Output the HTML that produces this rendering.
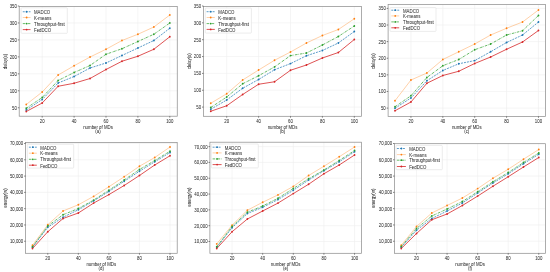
<!DOCTYPE html>
<html><head><meta charset="utf-8"><style>
html,body{margin:0;padding:0;background:#fff;}
body{width:550px;height:272px;overflow:hidden;}
svg{display:block;}
text{font-family:"Liberation Sans", sans-serif;fill:#303030;stroke:#303030;stroke-width:0.3px;}
svg{will-change:transform;filter:blur(0.3px);}
</style></head><body>
<svg width="550" height="272" viewBox="0 0 550 272">
<rect width="550" height="272" fill="#fff"/>
<line x1="42.2" y1="6.5" x2="42.2" y2="116.2" stroke="#efefef" stroke-width="0.6"/>
<line x1="74.1" y1="6.5" x2="74.1" y2="116.2" stroke="#efefef" stroke-width="0.6"/>
<line x1="106" y1="6.5" x2="106" y2="116.2" stroke="#efefef" stroke-width="0.6"/>
<line x1="137.9" y1="6.5" x2="137.9" y2="116.2" stroke="#efefef" stroke-width="0.6"/>
<line x1="169.8" y1="6.5" x2="169.8" y2="116.2" stroke="#efefef" stroke-width="0.6"/>
<line x1="19.2" y1="107.75" x2="177.25" y2="107.75" stroke="#efefef" stroke-width="0.6"/>
<line x1="19.2" y1="90.79" x2="177.25" y2="90.79" stroke="#efefef" stroke-width="0.6"/>
<line x1="19.2" y1="73.83" x2="177.25" y2="73.83" stroke="#efefef" stroke-width="0.6"/>
<line x1="19.2" y1="56.88" x2="177.25" y2="56.88" stroke="#efefef" stroke-width="0.6"/>
<line x1="19.2" y1="39.92" x2="177.25" y2="39.92" stroke="#efefef" stroke-width="0.6"/>
<line x1="19.2" y1="22.96" x2="177.25" y2="22.96" stroke="#efefef" stroke-width="0.6"/>
<polyline points="26.25,110 42.2,99.5 58.15,83 74.1,76.5 90.05,68 106,63 121.95,55.5 137.9,48 153.85,40.5 169.8,28.25" fill="none" stroke="#1f77b4" stroke-opacity="1.0" stroke-width="0.72" stroke-dasharray="2.0 1.0" stroke-linejoin="round"/>
<polyline points="26.25,104.5 42.2,92 58.15,75 74.1,65.75 90.05,57 106,49.25 121.95,40.5 137.9,34.25 153.85,27 169.8,15" fill="none" stroke="#ff7f0e" stroke-opacity="0.6" stroke-width="0.6" stroke-linejoin="round"/>
<polyline points="26.25,108.25 42.2,97.5 58.15,80.5 74.1,72.5 90.05,65.5 106,54.25 121.95,48.75 137.9,41.5 153.85,34.25 169.8,23" fill="none" stroke="#2ca02c" stroke-opacity="1.0" stroke-width="0.72" stroke-dasharray="2.6 0.9 0.6 0.9" stroke-linejoin="round"/>
<polyline points="26.25,111.5 42.2,103 58.15,86.25 74.1,83.25 90.05,78.5 106,69.5 121.95,61.25 137.9,56.25 153.85,49.25 169.8,36.75" fill="none" stroke="#d62728" stroke-opacity="1.0" stroke-width="0.8" stroke-linejoin="round"/>
<circle cx="26.25" cy="110" r="0.9" fill="#1f77b4"/>
<circle cx="42.2" cy="99.5" r="0.9" fill="#1f77b4"/>
<circle cx="58.15" cy="83" r="0.9" fill="#1f77b4"/>
<circle cx="74.1" cy="76.5" r="0.9" fill="#1f77b4"/>
<circle cx="90.05" cy="68" r="0.9" fill="#1f77b4"/>
<circle cx="106" cy="63" r="0.9" fill="#1f77b4"/>
<circle cx="121.95" cy="55.5" r="0.9" fill="#1f77b4"/>
<circle cx="137.9" cy="48" r="0.9" fill="#1f77b4"/>
<circle cx="153.85" cy="40.5" r="0.9" fill="#1f77b4"/>
<circle cx="169.8" cy="28.25" r="0.9" fill="#1f77b4"/>
<circle cx="26.25" cy="104.5" r="0.9" fill="#ff7f0e"/>
<circle cx="42.2" cy="92" r="0.9" fill="#ff7f0e"/>
<circle cx="58.15" cy="75" r="0.9" fill="#ff7f0e"/>
<circle cx="74.1" cy="65.75" r="0.9" fill="#ff7f0e"/>
<circle cx="90.05" cy="57" r="0.9" fill="#ff7f0e"/>
<circle cx="106" cy="49.25" r="0.9" fill="#ff7f0e"/>
<circle cx="121.95" cy="40.5" r="0.9" fill="#ff7f0e"/>
<circle cx="137.9" cy="34.25" r="0.9" fill="#ff7f0e"/>
<circle cx="153.85" cy="27" r="0.9" fill="#ff7f0e"/>
<circle cx="169.8" cy="15" r="0.9" fill="#ff7f0e"/>
<circle cx="26.25" cy="108.25" r="0.9" fill="#2ca02c"/>
<circle cx="42.2" cy="97.5" r="0.9" fill="#2ca02c"/>
<circle cx="58.15" cy="80.5" r="0.9" fill="#2ca02c"/>
<circle cx="74.1" cy="72.5" r="0.9" fill="#2ca02c"/>
<circle cx="90.05" cy="65.5" r="0.9" fill="#2ca02c"/>
<circle cx="106" cy="54.25" r="0.9" fill="#2ca02c"/>
<circle cx="121.95" cy="48.75" r="0.9" fill="#2ca02c"/>
<circle cx="137.9" cy="41.5" r="0.9" fill="#2ca02c"/>
<circle cx="153.85" cy="34.25" r="0.9" fill="#2ca02c"/>
<circle cx="169.8" cy="23" r="0.9" fill="#2ca02c"/>
<circle cx="26.25" cy="111.5" r="0.9" fill="#d62728"/>
<circle cx="42.2" cy="103" r="0.9" fill="#d62728"/>
<circle cx="58.15" cy="86.25" r="0.9" fill="#d62728"/>
<circle cx="74.1" cy="83.25" r="0.9" fill="#d62728"/>
<circle cx="90.05" cy="78.5" r="0.9" fill="#d62728"/>
<circle cx="106" cy="69.5" r="0.9" fill="#d62728"/>
<circle cx="121.95" cy="61.25" r="0.9" fill="#d62728"/>
<circle cx="137.9" cy="56.25" r="0.9" fill="#d62728"/>
<circle cx="153.85" cy="49.25" r="0.9" fill="#d62728"/>
<circle cx="169.8" cy="36.75" r="0.9" fill="#d62728"/>
<rect x="21.1" y="7.75" width="46.2" height="25.55" rx="0.8" fill="#ffffff" fill-opacity="0.85" stroke="#d9d9d9" stroke-width="0.5"/>
<line x1="22.75" y1="11.75" x2="30.5" y2="11.75" stroke="#1f77b4" stroke-opacity="1.0" stroke-width="0.72" stroke-dasharray="2.0 1.0"/>
<circle cx="26.62" cy="11.75" r="0.9" fill="#1f77b4"/>
<text transform="translate(34,13.65) scale(0.1,0.105)" font-size="43.5" letter-spacing="0">MADCO</text>
<line x1="22.75" y1="17.5" x2="30.5" y2="17.5" stroke="#ff7f0e" stroke-opacity="0.6" stroke-width="0.6"/>
<circle cx="26.62" cy="17.5" r="0.9" fill="#ff7f0e"/>
<text transform="translate(34,19.6) scale(0.1,0.105)" font-size="43.5" letter-spacing="0">K-means</text>
<line x1="22.75" y1="23.6" x2="30.5" y2="23.6" stroke="#2ca02c" stroke-opacity="1.0" stroke-width="0.72" stroke-dasharray="2.6 0.9 0.6 0.9"/>
<circle cx="26.62" cy="23.6" r="0.9" fill="#2ca02c"/>
<text transform="translate(34,25.5) scale(0.1,0.105)" font-size="43.5" letter-spacing="0">Throughput-first</text>
<line x1="22.75" y1="29.6" x2="30.5" y2="29.6" stroke="#d62728" stroke-opacity="1.0" stroke-width="0.8"/>
<circle cx="26.62" cy="29.6" r="0.9" fill="#d62728"/>
<text transform="translate(34,31.5) scale(0.1,0.105)" font-size="43.5" letter-spacing="0">FedDCO</text>
<rect x="19.2" y="6.5" width="158.05" height="109.7" fill="none" stroke="#8c8c8c" stroke-width="0.72"/>
<line x1="42.2" y1="116.2" x2="42.2" y2="117.6" stroke="#333" stroke-width="0.6"/>
<text transform="translate(42.2,122.62) scale(0.1,0.105)" font-size="43.5" letter-spacing="0" text-anchor="middle">20</text>
<line x1="74.1" y1="116.2" x2="74.1" y2="117.6" stroke="#333" stroke-width="0.6"/>
<text transform="translate(74.1,122.62) scale(0.1,0.105)" font-size="43.5" letter-spacing="0" text-anchor="middle">40</text>
<line x1="106" y1="116.2" x2="106" y2="117.6" stroke="#333" stroke-width="0.6"/>
<text transform="translate(106,122.62) scale(0.1,0.105)" font-size="43.5" letter-spacing="0" text-anchor="middle">60</text>
<line x1="137.9" y1="116.2" x2="137.9" y2="117.6" stroke="#333" stroke-width="0.6"/>
<text transform="translate(137.9,122.62) scale(0.1,0.105)" font-size="43.5" letter-spacing="0" text-anchor="middle">80</text>
<line x1="169.8" y1="116.2" x2="169.8" y2="117.6" stroke="#333" stroke-width="0.6"/>
<text transform="translate(169.8,122.62) scale(0.1,0.105)" font-size="43.5" letter-spacing="0" text-anchor="middle">100</text>
<line x1="17.8" y1="107.75" x2="19.2" y2="107.75" stroke="#333" stroke-width="0.6"/>
<text transform="translate(16.9,109.67) scale(0.1,0.105)" font-size="43.5" letter-spacing="0" text-anchor="end">50</text>
<line x1="17.8" y1="90.79" x2="19.2" y2="90.79" stroke="#333" stroke-width="0.6"/>
<text transform="translate(16.9,92.71) scale(0.1,0.105)" font-size="43.5" letter-spacing="0" text-anchor="end">100</text>
<line x1="17.8" y1="73.83" x2="19.2" y2="73.83" stroke="#333" stroke-width="0.6"/>
<text transform="translate(16.9,75.75) scale(0.1,0.105)" font-size="43.5" letter-spacing="0" text-anchor="end">150</text>
<line x1="17.8" y1="56.88" x2="19.2" y2="56.88" stroke="#333" stroke-width="0.6"/>
<text transform="translate(16.9,58.79) scale(0.1,0.105)" font-size="43.5" letter-spacing="0" text-anchor="end">200</text>
<line x1="17.8" y1="39.92" x2="19.2" y2="39.92" stroke="#333" stroke-width="0.6"/>
<text transform="translate(16.9,41.83) scale(0.1,0.105)" font-size="43.5" letter-spacing="0" text-anchor="end">250</text>
<line x1="17.8" y1="22.96" x2="19.2" y2="22.96" stroke="#333" stroke-width="0.6"/>
<text transform="translate(16.9,24.87) scale(0.1,0.105)" font-size="43.5" letter-spacing="0" text-anchor="end">300</text>
<line x1="17.8" y1="6" x2="19.2" y2="6" stroke="#333" stroke-width="0.6"/>
<text transform="translate(16.9,7.92) scale(0.1,0.105)" font-size="43.5" letter-spacing="0" text-anchor="end">350</text>
<text transform="translate(98.02,128.82) scale(0.1,0.105)" font-size="43.5" letter-spacing="0" text-anchor="middle">number of MDs</text>
<text transform="translate(98.02,132.92) scale(0.1,0.105)" font-size="43.5" letter-spacing="0" text-anchor="middle">(a)</text>
<text transform="translate(6.67,61.5) rotate(-90) scale(0.1,0.105)" font-size="43.5" letter-spacing="0" text-anchor="middle">delay(s)</text>
<line x1="226.7" y1="6.5" x2="226.7" y2="116.3" stroke="#efefef" stroke-width="0.6"/>
<line x1="258.6" y1="6.5" x2="258.6" y2="116.3" stroke="#efefef" stroke-width="0.6"/>
<line x1="290.5" y1="6.5" x2="290.5" y2="116.3" stroke="#efefef" stroke-width="0.6"/>
<line x1="322.4" y1="6.5" x2="322.4" y2="116.3" stroke="#efefef" stroke-width="0.6"/>
<line x1="354.3" y1="6.5" x2="354.3" y2="116.3" stroke="#efefef" stroke-width="0.6"/>
<line x1="203.4" y1="107.1" x2="361.4" y2="107.1" stroke="#efefef" stroke-width="0.6"/>
<line x1="203.4" y1="90.25" x2="361.4" y2="90.25" stroke="#efefef" stroke-width="0.6"/>
<line x1="203.4" y1="73.4" x2="361.4" y2="73.4" stroke="#efefef" stroke-width="0.6"/>
<line x1="203.4" y1="56.55" x2="361.4" y2="56.55" stroke="#efefef" stroke-width="0.6"/>
<line x1="203.4" y1="39.7" x2="361.4" y2="39.7" stroke="#efefef" stroke-width="0.6"/>
<line x1="203.4" y1="22.85" x2="361.4" y2="22.85" stroke="#efefef" stroke-width="0.6"/>
<polyline points="210.75,109.25 226.7,100 242.65,88.25 258.6,79.5 274.55,69.75 290.5,63.6 306.45,55.75 322.4,50.5 338.35,43 354.3,31.5" fill="none" stroke="#1f77b4" stroke-opacity="1.0" stroke-width="0.72" stroke-dasharray="2.0 1.0" stroke-linejoin="round"/>
<polyline points="210.75,103.25 226.7,93.75 242.65,80 258.6,70 274.55,60.25 290.5,52 306.45,43 322.4,35.5 338.35,29.5 354.3,18.75" fill="none" stroke="#ff7f0e" stroke-opacity="0.6" stroke-width="0.6" stroke-linejoin="round"/>
<polyline points="210.75,107.5 226.7,97 242.65,83.75 258.6,75.75 274.55,66.9 290.5,55.6 306.45,53 322.4,45 338.35,36.5 354.3,26" fill="none" stroke="#2ca02c" stroke-opacity="1.0" stroke-width="0.72" stroke-dasharray="2.6 0.9 0.6 0.9" stroke-linejoin="round"/>
<polyline points="210.75,111.25 226.7,105.75 242.65,94.5 258.6,84.25 274.55,81.75 290.5,70.25 306.45,65 322.4,58 338.35,52.5 354.3,39.5" fill="none" stroke="#d62728" stroke-opacity="1.0" stroke-width="0.8" stroke-linejoin="round"/>
<circle cx="210.75" cy="109.25" r="0.9" fill="#1f77b4"/>
<circle cx="226.7" cy="100" r="0.9" fill="#1f77b4"/>
<circle cx="242.65" cy="88.25" r="0.9" fill="#1f77b4"/>
<circle cx="258.6" cy="79.5" r="0.9" fill="#1f77b4"/>
<circle cx="274.55" cy="69.75" r="0.9" fill="#1f77b4"/>
<circle cx="290.5" cy="63.6" r="0.9" fill="#1f77b4"/>
<circle cx="306.45" cy="55.75" r="0.9" fill="#1f77b4"/>
<circle cx="322.4" cy="50.5" r="0.9" fill="#1f77b4"/>
<circle cx="338.35" cy="43" r="0.9" fill="#1f77b4"/>
<circle cx="354.3" cy="31.5" r="0.9" fill="#1f77b4"/>
<circle cx="210.75" cy="103.25" r="0.9" fill="#ff7f0e"/>
<circle cx="226.7" cy="93.75" r="0.9" fill="#ff7f0e"/>
<circle cx="242.65" cy="80" r="0.9" fill="#ff7f0e"/>
<circle cx="258.6" cy="70" r="0.9" fill="#ff7f0e"/>
<circle cx="274.55" cy="60.25" r="0.9" fill="#ff7f0e"/>
<circle cx="290.5" cy="52" r="0.9" fill="#ff7f0e"/>
<circle cx="306.45" cy="43" r="0.9" fill="#ff7f0e"/>
<circle cx="322.4" cy="35.5" r="0.9" fill="#ff7f0e"/>
<circle cx="338.35" cy="29.5" r="0.9" fill="#ff7f0e"/>
<circle cx="354.3" cy="18.75" r="0.9" fill="#ff7f0e"/>
<circle cx="210.75" cy="107.5" r="0.9" fill="#2ca02c"/>
<circle cx="226.7" cy="97" r="0.9" fill="#2ca02c"/>
<circle cx="242.65" cy="83.75" r="0.9" fill="#2ca02c"/>
<circle cx="258.6" cy="75.75" r="0.9" fill="#2ca02c"/>
<circle cx="274.55" cy="66.9" r="0.9" fill="#2ca02c"/>
<circle cx="290.5" cy="55.6" r="0.9" fill="#2ca02c"/>
<circle cx="306.45" cy="53" r="0.9" fill="#2ca02c"/>
<circle cx="322.4" cy="45" r="0.9" fill="#2ca02c"/>
<circle cx="338.35" cy="36.5" r="0.9" fill="#2ca02c"/>
<circle cx="354.3" cy="26" r="0.9" fill="#2ca02c"/>
<circle cx="210.75" cy="111.25" r="0.9" fill="#d62728"/>
<circle cx="226.7" cy="105.75" r="0.9" fill="#d62728"/>
<circle cx="242.65" cy="94.5" r="0.9" fill="#d62728"/>
<circle cx="258.6" cy="84.25" r="0.9" fill="#d62728"/>
<circle cx="274.55" cy="81.75" r="0.9" fill="#d62728"/>
<circle cx="290.5" cy="70.25" r="0.9" fill="#d62728"/>
<circle cx="306.45" cy="65" r="0.9" fill="#d62728"/>
<circle cx="322.4" cy="58" r="0.9" fill="#d62728"/>
<circle cx="338.35" cy="52.5" r="0.9" fill="#d62728"/>
<circle cx="354.3" cy="39.5" r="0.9" fill="#d62728"/>
<rect x="205.3" y="8" width="46.1" height="25.1" rx="0.8" fill="#ffffff" fill-opacity="0.85" stroke="#d9d9d9" stroke-width="0.5"/>
<line x1="206.6" y1="11.7" x2="214.8" y2="11.7" stroke="#1f77b4" stroke-opacity="1.0" stroke-width="0.72" stroke-dasharray="2.0 1.0"/>
<circle cx="210.7" cy="11.7" r="0.9" fill="#1f77b4"/>
<text transform="translate(218.3,13.6) scale(0.1,0.105)" font-size="43.5" letter-spacing="0">MADCO</text>
<line x1="206.6" y1="17.5" x2="214.8" y2="17.5" stroke="#ff7f0e" stroke-opacity="0.6" stroke-width="0.6"/>
<circle cx="210.7" cy="17.5" r="0.9" fill="#ff7f0e"/>
<text transform="translate(218.3,19.6) scale(0.1,0.105)" font-size="43.5" letter-spacing="0">K-means</text>
<line x1="206.6" y1="23.6" x2="214.8" y2="23.6" stroke="#2ca02c" stroke-opacity="1.0" stroke-width="0.72" stroke-dasharray="2.6 0.9 0.6 0.9"/>
<circle cx="210.7" cy="23.6" r="0.9" fill="#2ca02c"/>
<text transform="translate(218.3,25.5) scale(0.1,0.105)" font-size="43.5" letter-spacing="0">Throughput-first</text>
<line x1="206.6" y1="29.4" x2="214.8" y2="29.4" stroke="#d62728" stroke-opacity="1.0" stroke-width="0.8"/>
<circle cx="210.7" cy="29.4" r="0.9" fill="#d62728"/>
<text transform="translate(218.3,31.5) scale(0.1,0.105)" font-size="43.5" letter-spacing="0">FedDCO</text>
<rect x="203.4" y="6.5" width="158" height="109.8" fill="none" stroke="#8c8c8c" stroke-width="0.72"/>
<line x1="226.7" y1="116.3" x2="226.7" y2="117.7" stroke="#333" stroke-width="0.6"/>
<text transform="translate(226.7,122.72) scale(0.1,0.105)" font-size="43.5" letter-spacing="0" text-anchor="middle">20</text>
<line x1="258.6" y1="116.3" x2="258.6" y2="117.7" stroke="#333" stroke-width="0.6"/>
<text transform="translate(258.6,122.72) scale(0.1,0.105)" font-size="43.5" letter-spacing="0" text-anchor="middle">40</text>
<line x1="290.5" y1="116.3" x2="290.5" y2="117.7" stroke="#333" stroke-width="0.6"/>
<text transform="translate(290.5,122.72) scale(0.1,0.105)" font-size="43.5" letter-spacing="0" text-anchor="middle">60</text>
<line x1="322.4" y1="116.3" x2="322.4" y2="117.7" stroke="#333" stroke-width="0.6"/>
<text transform="translate(322.4,122.72) scale(0.1,0.105)" font-size="43.5" letter-spacing="0" text-anchor="middle">80</text>
<line x1="354.3" y1="116.3" x2="354.3" y2="117.7" stroke="#333" stroke-width="0.6"/>
<text transform="translate(354.3,122.72) scale(0.1,0.105)" font-size="43.5" letter-spacing="0" text-anchor="middle">100</text>
<line x1="202" y1="107.1" x2="203.4" y2="107.1" stroke="#333" stroke-width="0.6"/>
<text transform="translate(201.1,109.02) scale(0.1,0.105)" font-size="43.5" letter-spacing="0" text-anchor="end">50</text>
<line x1="202" y1="90.25" x2="203.4" y2="90.25" stroke="#333" stroke-width="0.6"/>
<text transform="translate(201.1,92.17) scale(0.1,0.105)" font-size="43.5" letter-spacing="0" text-anchor="end">100</text>
<line x1="202" y1="73.4" x2="203.4" y2="73.4" stroke="#333" stroke-width="0.6"/>
<text transform="translate(201.1,75.32) scale(0.1,0.105)" font-size="43.5" letter-spacing="0" text-anchor="end">150</text>
<line x1="202" y1="56.55" x2="203.4" y2="56.55" stroke="#333" stroke-width="0.6"/>
<text transform="translate(201.1,58.47) scale(0.1,0.105)" font-size="43.5" letter-spacing="0" text-anchor="end">200</text>
<line x1="202" y1="39.7" x2="203.4" y2="39.7" stroke="#333" stroke-width="0.6"/>
<text transform="translate(201.1,41.62) scale(0.1,0.105)" font-size="43.5" letter-spacing="0" text-anchor="end">250</text>
<line x1="202" y1="22.85" x2="203.4" y2="22.85" stroke="#333" stroke-width="0.6"/>
<text transform="translate(201.1,24.77) scale(0.1,0.105)" font-size="43.5" letter-spacing="0" text-anchor="end">300</text>
<line x1="202" y1="6" x2="203.4" y2="6" stroke="#333" stroke-width="0.6"/>
<text transform="translate(201.1,7.92) scale(0.1,0.105)" font-size="43.5" letter-spacing="0" text-anchor="end">350</text>
<text transform="translate(282.52,128.92) scale(0.1,0.105)" font-size="43.5" letter-spacing="0" text-anchor="middle">number of MDs</text>
<text transform="translate(282.52,132.92) scale(0.1,0.105)" font-size="43.5" letter-spacing="0" text-anchor="middle">(b)</text>
<text transform="translate(190.87,61) rotate(-90) scale(0.1,0.105)" font-size="43.5" letter-spacing="0" text-anchor="middle">delay(s)</text>
<line x1="410.94" y1="4.6" x2="410.94" y2="116.4" stroke="#efefef" stroke-width="0.6"/>
<line x1="442.82" y1="4.6" x2="442.82" y2="116.4" stroke="#efefef" stroke-width="0.6"/>
<line x1="474.7" y1="4.6" x2="474.7" y2="116.4" stroke="#efefef" stroke-width="0.6"/>
<line x1="506.58" y1="4.6" x2="506.58" y2="116.4" stroke="#efefef" stroke-width="0.6"/>
<line x1="538.46" y1="4.6" x2="538.46" y2="116.4" stroke="#efefef" stroke-width="0.6"/>
<line x1="388.1" y1="108.1" x2="545.5" y2="108.1" stroke="#efefef" stroke-width="0.6"/>
<line x1="388.1" y1="91.48" x2="545.5" y2="91.48" stroke="#efefef" stroke-width="0.6"/>
<line x1="388.1" y1="74.86" x2="545.5" y2="74.86" stroke="#efefef" stroke-width="0.6"/>
<line x1="388.1" y1="58.24" x2="545.5" y2="58.24" stroke="#efefef" stroke-width="0.6"/>
<line x1="388.1" y1="41.62" x2="545.5" y2="41.62" stroke="#efefef" stroke-width="0.6"/>
<line x1="388.1" y1="25" x2="545.5" y2="25" stroke="#efefef" stroke-width="0.6"/>
<line x1="388.1" y1="8.38" x2="545.5" y2="8.38" stroke="#efefef" stroke-width="0.6"/>
<polyline points="395,108.25 410.94,98 426.88,80.75 442.82,70.5 458.76,63.75 474.7,60.6 490.64,51.75 506.58,42.5 522.52,35 538.46,22" fill="none" stroke="#1f77b4" stroke-opacity="1.0" stroke-width="0.72" stroke-dasharray="2.0 1.0" stroke-linejoin="round"/>
<polyline points="395,100.75 410.94,80 426.88,73 442.82,59.5 458.76,51.75 474.7,44 490.64,35 506.58,28.25 522.52,22 538.46,10" fill="none" stroke="#ff7f0e" stroke-opacity="0.6" stroke-width="0.6" stroke-linejoin="round"/>
<polyline points="395,106.75 410.94,95.75 426.88,77.5 442.82,65.75 458.76,59.5 474.7,49.75 490.64,44 506.58,35 522.52,30.75 538.46,15.5" fill="none" stroke="#2ca02c" stroke-opacity="1.0" stroke-width="0.72" stroke-dasharray="2.6 0.9 0.6 0.9" stroke-linejoin="round"/>
<polyline points="395,110.75 410.94,102 426.88,83.25 442.82,75.5 458.76,71.25 474.7,63.5 490.64,57 506.58,49.25 522.52,42 538.46,30.5" fill="none" stroke="#d62728" stroke-opacity="1.0" stroke-width="0.8" stroke-linejoin="round"/>
<circle cx="395" cy="108.25" r="0.9" fill="#1f77b4"/>
<circle cx="410.94" cy="98" r="0.9" fill="#1f77b4"/>
<circle cx="426.88" cy="80.75" r="0.9" fill="#1f77b4"/>
<circle cx="442.82" cy="70.5" r="0.9" fill="#1f77b4"/>
<circle cx="458.76" cy="63.75" r="0.9" fill="#1f77b4"/>
<circle cx="474.7" cy="60.6" r="0.9" fill="#1f77b4"/>
<circle cx="490.64" cy="51.75" r="0.9" fill="#1f77b4"/>
<circle cx="506.58" cy="42.5" r="0.9" fill="#1f77b4"/>
<circle cx="522.52" cy="35" r="0.9" fill="#1f77b4"/>
<circle cx="538.46" cy="22" r="0.9" fill="#1f77b4"/>
<circle cx="395" cy="100.75" r="0.9" fill="#ff7f0e"/>
<circle cx="410.94" cy="80" r="0.9" fill="#ff7f0e"/>
<circle cx="426.88" cy="73" r="0.9" fill="#ff7f0e"/>
<circle cx="442.82" cy="59.5" r="0.9" fill="#ff7f0e"/>
<circle cx="458.76" cy="51.75" r="0.9" fill="#ff7f0e"/>
<circle cx="474.7" cy="44" r="0.9" fill="#ff7f0e"/>
<circle cx="490.64" cy="35" r="0.9" fill="#ff7f0e"/>
<circle cx="506.58" cy="28.25" r="0.9" fill="#ff7f0e"/>
<circle cx="522.52" cy="22" r="0.9" fill="#ff7f0e"/>
<circle cx="538.46" cy="10" r="0.9" fill="#ff7f0e"/>
<circle cx="395" cy="106.75" r="0.9" fill="#2ca02c"/>
<circle cx="410.94" cy="95.75" r="0.9" fill="#2ca02c"/>
<circle cx="426.88" cy="77.5" r="0.9" fill="#2ca02c"/>
<circle cx="442.82" cy="65.75" r="0.9" fill="#2ca02c"/>
<circle cx="458.76" cy="59.5" r="0.9" fill="#2ca02c"/>
<circle cx="474.7" cy="49.75" r="0.9" fill="#2ca02c"/>
<circle cx="490.64" cy="44" r="0.9" fill="#2ca02c"/>
<circle cx="506.58" cy="35" r="0.9" fill="#2ca02c"/>
<circle cx="522.52" cy="30.75" r="0.9" fill="#2ca02c"/>
<circle cx="538.46" cy="15.5" r="0.9" fill="#2ca02c"/>
<circle cx="395" cy="110.75" r="0.9" fill="#d62728"/>
<circle cx="410.94" cy="102" r="0.9" fill="#d62728"/>
<circle cx="426.88" cy="83.25" r="0.9" fill="#d62728"/>
<circle cx="442.82" cy="75.5" r="0.9" fill="#d62728"/>
<circle cx="458.76" cy="71.25" r="0.9" fill="#d62728"/>
<circle cx="474.7" cy="63.5" r="0.9" fill="#d62728"/>
<circle cx="490.64" cy="57" r="0.9" fill="#d62728"/>
<circle cx="506.58" cy="49.25" r="0.9" fill="#d62728"/>
<circle cx="522.52" cy="42" r="0.9" fill="#d62728"/>
<circle cx="538.46" cy="30.5" r="0.9" fill="#d62728"/>
<rect x="390" y="7.6" width="46" height="23.8" rx="0.8" fill="#ffffff" fill-opacity="0.85" stroke="#d9d9d9" stroke-width="0.5"/>
<line x1="391.3" y1="10.2" x2="399.2" y2="10.2" stroke="#1f77b4" stroke-opacity="1.0" stroke-width="0.72" stroke-dasharray="2.0 1.0"/>
<circle cx="395.25" cy="10.2" r="0.9" fill="#1f77b4"/>
<text transform="translate(403,12.5) scale(0.1,0.105)" font-size="43.5" letter-spacing="0">MADCO</text>
<line x1="391.3" y1="15.9" x2="399.2" y2="15.9" stroke="#ff7f0e" stroke-opacity="0.6" stroke-width="0.6"/>
<circle cx="395.25" cy="15.9" r="0.9" fill="#ff7f0e"/>
<text transform="translate(403,17.6) scale(0.1,0.105)" font-size="43.5" letter-spacing="0">K-means</text>
<line x1="391.3" y1="21.9" x2="399.2" y2="21.9" stroke="#2ca02c" stroke-opacity="1.0" stroke-width="0.72" stroke-dasharray="2.6 0.9 0.6 0.9"/>
<circle cx="395.25" cy="21.9" r="0.9" fill="#2ca02c"/>
<text transform="translate(403,23.6) scale(0.1,0.105)" font-size="43.5" letter-spacing="0">Throughput-first</text>
<line x1="391.3" y1="27.8" x2="399.2" y2="27.8" stroke="#d62728" stroke-opacity="1.0" stroke-width="0.8"/>
<circle cx="395.25" cy="27.8" r="0.9" fill="#d62728"/>
<text transform="translate(403,29.5) scale(0.1,0.105)" font-size="43.5" letter-spacing="0">FedDCO</text>
<rect x="388.1" y="4.6" width="157.4" height="111.8" fill="none" stroke="#8c8c8c" stroke-width="0.72"/>
<line x1="410.94" y1="116.4" x2="410.94" y2="117.8" stroke="#333" stroke-width="0.6"/>
<text transform="translate(410.94,122.72) scale(0.1,0.105)" font-size="43.5" letter-spacing="0" text-anchor="middle">20</text>
<line x1="442.82" y1="116.4" x2="442.82" y2="117.8" stroke="#333" stroke-width="0.6"/>
<text transform="translate(442.82,122.72) scale(0.1,0.105)" font-size="43.5" letter-spacing="0" text-anchor="middle">40</text>
<line x1="474.7" y1="116.4" x2="474.7" y2="117.8" stroke="#333" stroke-width="0.6"/>
<text transform="translate(474.7,122.72) scale(0.1,0.105)" font-size="43.5" letter-spacing="0" text-anchor="middle">60</text>
<line x1="506.58" y1="116.4" x2="506.58" y2="117.8" stroke="#333" stroke-width="0.6"/>
<text transform="translate(506.58,122.72) scale(0.1,0.105)" font-size="43.5" letter-spacing="0" text-anchor="middle">80</text>
<line x1="538.46" y1="116.4" x2="538.46" y2="117.8" stroke="#333" stroke-width="0.6"/>
<text transform="translate(538.46,122.72) scale(0.1,0.105)" font-size="43.5" letter-spacing="0" text-anchor="middle">100</text>
<line x1="386.7" y1="108.1" x2="388.1" y2="108.1" stroke="#333" stroke-width="0.6"/>
<text transform="translate(385.8,110.02) scale(0.1,0.105)" font-size="43.5" letter-spacing="0" text-anchor="end">50</text>
<line x1="386.7" y1="91.48" x2="388.1" y2="91.48" stroke="#333" stroke-width="0.6"/>
<text transform="translate(385.8,93.4) scale(0.1,0.105)" font-size="43.5" letter-spacing="0" text-anchor="end">100</text>
<line x1="386.7" y1="74.86" x2="388.1" y2="74.86" stroke="#333" stroke-width="0.6"/>
<text transform="translate(385.8,76.78) scale(0.1,0.105)" font-size="43.5" letter-spacing="0" text-anchor="end">150</text>
<line x1="386.7" y1="58.24" x2="388.1" y2="58.24" stroke="#333" stroke-width="0.6"/>
<text transform="translate(385.8,60.16) scale(0.1,0.105)" font-size="43.5" letter-spacing="0" text-anchor="end">200</text>
<line x1="386.7" y1="41.62" x2="388.1" y2="41.62" stroke="#333" stroke-width="0.6"/>
<text transform="translate(385.8,43.54) scale(0.1,0.105)" font-size="43.5" letter-spacing="0" text-anchor="end">250</text>
<line x1="386.7" y1="25" x2="388.1" y2="25" stroke="#333" stroke-width="0.6"/>
<text transform="translate(385.8,26.92) scale(0.1,0.105)" font-size="43.5" letter-spacing="0" text-anchor="end">300</text>
<line x1="386.7" y1="8.38" x2="388.1" y2="8.38" stroke="#333" stroke-width="0.6"/>
<text transform="translate(385.8,10.3) scale(0.1,0.105)" font-size="43.5" letter-spacing="0" text-anchor="end">350</text>
<text transform="translate(466.73,128.92) scale(0.1,0.105)" font-size="43.5" letter-spacing="0" text-anchor="middle">number of MDs</text>
<text transform="translate(466.73,132.92) scale(0.1,0.105)" font-size="43.5" letter-spacing="0" text-anchor="middle">(c)</text>
<text transform="translate(375.47,60.9) rotate(-90) scale(0.1,0.105)" font-size="43.5" letter-spacing="0" text-anchor="middle">delay(s)</text>
<line x1="47.78" y1="142.5" x2="47.78" y2="253.3" stroke="#efefef" stroke-width="0.6"/>
<line x1="78.34" y1="142.5" x2="78.34" y2="253.3" stroke="#efefef" stroke-width="0.6"/>
<line x1="108.9" y1="142.5" x2="108.9" y2="253.3" stroke="#efefef" stroke-width="0.6"/>
<line x1="139.46" y1="142.5" x2="139.46" y2="253.3" stroke="#efefef" stroke-width="0.6"/>
<line x1="170.02" y1="142.5" x2="170.02" y2="253.3" stroke="#efefef" stroke-width="0.6"/>
<line x1="25.5" y1="241.25" x2="177.2" y2="241.25" stroke="#efefef" stroke-width="0.6"/>
<line x1="25.5" y1="224.96" x2="177.2" y2="224.96" stroke="#efefef" stroke-width="0.6"/>
<line x1="25.5" y1="208.67" x2="177.2" y2="208.67" stroke="#efefef" stroke-width="0.6"/>
<line x1="25.5" y1="192.38" x2="177.2" y2="192.38" stroke="#efefef" stroke-width="0.6"/>
<line x1="25.5" y1="176.08" x2="177.2" y2="176.08" stroke="#efefef" stroke-width="0.6"/>
<line x1="25.5" y1="159.79" x2="177.2" y2="159.79" stroke="#efefef" stroke-width="0.6"/>
<line x1="25.5" y1="143.5" x2="177.2" y2="143.5" stroke="#efefef" stroke-width="0.6"/>
<polyline points="32.5,247.25 47.78,227.25 63.06,217.25 78.34,209.75 93.62,200.9 108.9,191.4 124.18,181.25 139.46,171.25 154.74,161.75 170.02,152.5" fill="none" stroke="#1f77b4" stroke-opacity="1.0" stroke-width="0.72" stroke-dasharray="2.0 1.0" stroke-linejoin="round"/>
<polyline points="32.5,245.25 47.78,224.75 63.06,211 78.34,204.75 93.62,196.4 108.9,186.75 124.18,176.75 139.46,166.25 154.74,157.5 170.02,147" fill="none" stroke="#ff7f0e" stroke-opacity="0.6" stroke-width="0.6" stroke-linejoin="round"/>
<polyline points="32.5,246.75 47.78,226 63.06,214.75 78.34,208.5 93.62,200.1 108.9,190.25 124.18,180 139.46,169.5 154.74,160.5 170.02,151.25" fill="none" stroke="#2ca02c" stroke-opacity="1.0" stroke-width="0.72" stroke-dasharray="2.6 0.9 0.6 0.9" stroke-linejoin="round"/>
<polyline points="32.5,248.5 47.78,231.75 63.06,218.5 78.34,213 93.62,203.1 108.9,194.6 124.18,185.5 139.46,175.5 154.74,165 170.02,155.75" fill="none" stroke="#d62728" stroke-opacity="1.0" stroke-width="0.8" stroke-linejoin="round"/>
<circle cx="32.5" cy="247.25" r="0.9" fill="#1f77b4"/>
<circle cx="47.78" cy="227.25" r="0.9" fill="#1f77b4"/>
<circle cx="63.06" cy="217.25" r="0.9" fill="#1f77b4"/>
<circle cx="78.34" cy="209.75" r="0.9" fill="#1f77b4"/>
<circle cx="93.62" cy="200.9" r="0.9" fill="#1f77b4"/>
<circle cx="108.9" cy="191.4" r="0.9" fill="#1f77b4"/>
<circle cx="124.18" cy="181.25" r="0.9" fill="#1f77b4"/>
<circle cx="139.46" cy="171.25" r="0.9" fill="#1f77b4"/>
<circle cx="154.74" cy="161.75" r="0.9" fill="#1f77b4"/>
<circle cx="170.02" cy="152.5" r="0.9" fill="#1f77b4"/>
<circle cx="32.5" cy="245.25" r="0.9" fill="#ff7f0e"/>
<circle cx="47.78" cy="224.75" r="0.9" fill="#ff7f0e"/>
<circle cx="63.06" cy="211" r="0.9" fill="#ff7f0e"/>
<circle cx="78.34" cy="204.75" r="0.9" fill="#ff7f0e"/>
<circle cx="93.62" cy="196.4" r="0.9" fill="#ff7f0e"/>
<circle cx="108.9" cy="186.75" r="0.9" fill="#ff7f0e"/>
<circle cx="124.18" cy="176.75" r="0.9" fill="#ff7f0e"/>
<circle cx="139.46" cy="166.25" r="0.9" fill="#ff7f0e"/>
<circle cx="154.74" cy="157.5" r="0.9" fill="#ff7f0e"/>
<circle cx="170.02" cy="147" r="0.9" fill="#ff7f0e"/>
<circle cx="32.5" cy="246.75" r="0.9" fill="#2ca02c"/>
<circle cx="47.78" cy="226" r="0.9" fill="#2ca02c"/>
<circle cx="63.06" cy="214.75" r="0.9" fill="#2ca02c"/>
<circle cx="78.34" cy="208.5" r="0.9" fill="#2ca02c"/>
<circle cx="93.62" cy="200.1" r="0.9" fill="#2ca02c"/>
<circle cx="108.9" cy="190.25" r="0.9" fill="#2ca02c"/>
<circle cx="124.18" cy="180" r="0.9" fill="#2ca02c"/>
<circle cx="139.46" cy="169.5" r="0.9" fill="#2ca02c"/>
<circle cx="154.74" cy="160.5" r="0.9" fill="#2ca02c"/>
<circle cx="170.02" cy="151.25" r="0.9" fill="#2ca02c"/>
<circle cx="32.5" cy="248.5" r="0.9" fill="#d62728"/>
<circle cx="47.78" cy="231.75" r="0.9" fill="#d62728"/>
<circle cx="63.06" cy="218.5" r="0.9" fill="#d62728"/>
<circle cx="78.34" cy="213" r="0.9" fill="#d62728"/>
<circle cx="93.62" cy="203.1" r="0.9" fill="#d62728"/>
<circle cx="108.9" cy="194.6" r="0.9" fill="#d62728"/>
<circle cx="124.18" cy="185.5" r="0.9" fill="#d62728"/>
<circle cx="139.46" cy="175.5" r="0.9" fill="#d62728"/>
<circle cx="154.74" cy="165" r="0.9" fill="#d62728"/>
<circle cx="170.02" cy="155.75" r="0.9" fill="#d62728"/>
<rect x="27.3" y="144.3" width="46.4" height="23.8" rx="0.8" fill="#ffffff" fill-opacity="0.85" stroke="#d9d9d9" stroke-width="0.5"/>
<line x1="28.9" y1="147.2" x2="36.8" y2="147.2" stroke="#1f77b4" stroke-opacity="1.0" stroke-width="0.72" stroke-dasharray="2.0 1.0"/>
<circle cx="32.85" cy="147.2" r="0.9" fill="#1f77b4"/>
<text transform="translate(40.3,149.5) scale(0.1,0.105)" font-size="43.5" letter-spacing="0">MADCO</text>
<line x1="28.9" y1="153.2" x2="36.8" y2="153.2" stroke="#ff7f0e" stroke-opacity="0.6" stroke-width="0.6"/>
<circle cx="32.85" cy="153.2" r="0.9" fill="#ff7f0e"/>
<text transform="translate(40.3,154.5) scale(0.1,0.105)" font-size="43.5" letter-spacing="0">K-means</text>
<line x1="28.9" y1="159.3" x2="36.8" y2="159.3" stroke="#2ca02c" stroke-opacity="1.0" stroke-width="0.72" stroke-dasharray="2.6 0.9 0.6 0.9"/>
<circle cx="32.85" cy="159.3" r="0.9" fill="#2ca02c"/>
<text transform="translate(40.3,160.6) scale(0.1,0.105)" font-size="43.5" letter-spacing="0">Throughput-first</text>
<line x1="28.9" y1="165.2" x2="36.8" y2="165.2" stroke="#d62728" stroke-opacity="1.0" stroke-width="0.8"/>
<circle cx="32.85" cy="165.2" r="0.9" fill="#d62728"/>
<text transform="translate(40.3,167.5) scale(0.1,0.105)" font-size="43.5" letter-spacing="0">FedDCO</text>
<rect x="25.5" y="142.5" width="151.7" height="110.8" fill="none" stroke="#8c8c8c" stroke-width="0.72"/>
<line x1="47.78" y1="253.3" x2="47.78" y2="254.7" stroke="#333" stroke-width="0.6"/>
<text transform="translate(47.78,260.12) scale(0.1,0.105)" font-size="43.5" letter-spacing="0" text-anchor="middle">20</text>
<line x1="78.34" y1="253.3" x2="78.34" y2="254.7" stroke="#333" stroke-width="0.6"/>
<text transform="translate(78.34,260.12) scale(0.1,0.105)" font-size="43.5" letter-spacing="0" text-anchor="middle">40</text>
<line x1="108.9" y1="253.3" x2="108.9" y2="254.7" stroke="#333" stroke-width="0.6"/>
<text transform="translate(108.9,260.12) scale(0.1,0.105)" font-size="43.5" letter-spacing="0" text-anchor="middle">60</text>
<line x1="139.46" y1="253.3" x2="139.46" y2="254.7" stroke="#333" stroke-width="0.6"/>
<text transform="translate(139.46,260.12) scale(0.1,0.105)" font-size="43.5" letter-spacing="0" text-anchor="middle">80</text>
<line x1="170.02" y1="253.3" x2="170.02" y2="254.7" stroke="#333" stroke-width="0.6"/>
<text transform="translate(170.02,260.12) scale(0.1,0.105)" font-size="43.5" letter-spacing="0" text-anchor="middle">100</text>
<line x1="24.1" y1="241.25" x2="25.5" y2="241.25" stroke="#333" stroke-width="0.6"/>
<text transform="translate(23.2,243.17) scale(0.1,0.105)" font-size="43.5" letter-spacing="0" text-anchor="end">10,000</text>
<line x1="24.1" y1="224.96" x2="25.5" y2="224.96" stroke="#333" stroke-width="0.6"/>
<text transform="translate(23.2,226.87) scale(0.1,0.105)" font-size="43.5" letter-spacing="0" text-anchor="end">20,000</text>
<line x1="24.1" y1="208.67" x2="25.5" y2="208.67" stroke="#333" stroke-width="0.6"/>
<text transform="translate(23.2,210.58) scale(0.1,0.105)" font-size="43.5" letter-spacing="0" text-anchor="end">30,000</text>
<line x1="24.1" y1="192.38" x2="25.5" y2="192.38" stroke="#333" stroke-width="0.6"/>
<text transform="translate(23.2,194.29) scale(0.1,0.105)" font-size="43.5" letter-spacing="0" text-anchor="end">40,000</text>
<line x1="24.1" y1="176.08" x2="25.5" y2="176.08" stroke="#333" stroke-width="0.6"/>
<text transform="translate(23.2,178) scale(0.1,0.105)" font-size="43.5" letter-spacing="0" text-anchor="end">50,000</text>
<line x1="24.1" y1="159.79" x2="25.5" y2="159.79" stroke="#333" stroke-width="0.6"/>
<text transform="translate(23.2,161.71) scale(0.1,0.105)" font-size="43.5" letter-spacing="0" text-anchor="end">60,000</text>
<line x1="24.1" y1="143.5" x2="25.5" y2="143.5" stroke="#333" stroke-width="0.6"/>
<text transform="translate(23.2,145.42) scale(0.1,0.105)" font-size="43.5" letter-spacing="0" text-anchor="end">70,000</text>
<text transform="translate(101.26,265.52) scale(0.1,0.105)" font-size="43.5" letter-spacing="0" text-anchor="middle">number of MDs</text>
<text transform="translate(101.26,269.62) scale(0.1,0.105)" font-size="43.5" letter-spacing="0" text-anchor="middle">(d)</text>
<text transform="translate(6.87,198) rotate(-90) scale(0.1,0.105)" font-size="43.5" letter-spacing="0" text-anchor="middle">energy(w)</text>
<line x1="232.06" y1="142.2" x2="232.06" y2="253.3" stroke="#efefef" stroke-width="0.6"/>
<line x1="262.68" y1="142.2" x2="262.68" y2="253.3" stroke="#efefef" stroke-width="0.6"/>
<line x1="293.3" y1="142.2" x2="293.3" y2="253.3" stroke="#efefef" stroke-width="0.6"/>
<line x1="323.92" y1="142.2" x2="323.92" y2="253.3" stroke="#efefef" stroke-width="0.6"/>
<line x1="354.54" y1="142.2" x2="354.54" y2="253.3" stroke="#efefef" stroke-width="0.6"/>
<line x1="209.9" y1="241.5" x2="361.4" y2="241.5" stroke="#efefef" stroke-width="0.6"/>
<line x1="209.9" y1="225.68" x2="361.4" y2="225.68" stroke="#efefef" stroke-width="0.6"/>
<line x1="209.9" y1="209.87" x2="361.4" y2="209.87" stroke="#efefef" stroke-width="0.6"/>
<line x1="209.9" y1="194.05" x2="361.4" y2="194.05" stroke="#efefef" stroke-width="0.6"/>
<line x1="209.9" y1="178.23" x2="361.4" y2="178.23" stroke="#efefef" stroke-width="0.6"/>
<line x1="209.9" y1="162.42" x2="361.4" y2="162.42" stroke="#efefef" stroke-width="0.6"/>
<line x1="209.9" y1="146.6" x2="361.4" y2="146.6" stroke="#efefef" stroke-width="0.6"/>
<polyline points="216.75,247.25 232.06,227.75 247.37,213.5 262.68,207.25 277.99,199.6 293.3,190.25 308.61,180 323.92,170.75 339.23,161.75 354.54,151.75" fill="none" stroke="#1f77b4" stroke-opacity="1.0" stroke-width="0.72" stroke-dasharray="2.0 1.0" stroke-linejoin="round"/>
<polyline points="216.75,243.9 232.06,225.25 247.37,210.25 262.68,202.25 277.99,194.9 293.3,186.4 308.61,175.5 323.92,166.25 339.23,156.75 354.54,147" fill="none" stroke="#ff7f0e" stroke-opacity="0.6" stroke-width="0.6" stroke-linejoin="round"/>
<polyline points="216.75,246.75 232.06,226.5 247.37,212.25 262.68,206 277.99,198.25 293.3,188.5 308.61,178.75 323.92,170 339.23,160.5 354.54,150.5" fill="none" stroke="#2ca02c" stroke-opacity="1.0" stroke-width="0.72" stroke-dasharray="2.6 0.9 0.6 0.9" stroke-linejoin="round"/>
<polyline points="216.75,248.5 232.06,231.75 247.37,219 262.68,211 277.99,203.1 293.3,193.6 308.61,184.25 323.92,173.75 339.23,165 354.54,155" fill="none" stroke="#d62728" stroke-opacity="1.0" stroke-width="0.8" stroke-linejoin="round"/>
<circle cx="216.75" cy="247.25" r="0.9" fill="#1f77b4"/>
<circle cx="232.06" cy="227.75" r="0.9" fill="#1f77b4"/>
<circle cx="247.37" cy="213.5" r="0.9" fill="#1f77b4"/>
<circle cx="262.68" cy="207.25" r="0.9" fill="#1f77b4"/>
<circle cx="277.99" cy="199.6" r="0.9" fill="#1f77b4"/>
<circle cx="293.3" cy="190.25" r="0.9" fill="#1f77b4"/>
<circle cx="308.61" cy="180" r="0.9" fill="#1f77b4"/>
<circle cx="323.92" cy="170.75" r="0.9" fill="#1f77b4"/>
<circle cx="339.23" cy="161.75" r="0.9" fill="#1f77b4"/>
<circle cx="354.54" cy="151.75" r="0.9" fill="#1f77b4"/>
<circle cx="216.75" cy="243.9" r="0.9" fill="#ff7f0e"/>
<circle cx="232.06" cy="225.25" r="0.9" fill="#ff7f0e"/>
<circle cx="247.37" cy="210.25" r="0.9" fill="#ff7f0e"/>
<circle cx="262.68" cy="202.25" r="0.9" fill="#ff7f0e"/>
<circle cx="277.99" cy="194.9" r="0.9" fill="#ff7f0e"/>
<circle cx="293.3" cy="186.4" r="0.9" fill="#ff7f0e"/>
<circle cx="308.61" cy="175.5" r="0.9" fill="#ff7f0e"/>
<circle cx="323.92" cy="166.25" r="0.9" fill="#ff7f0e"/>
<circle cx="339.23" cy="156.75" r="0.9" fill="#ff7f0e"/>
<circle cx="354.54" cy="147" r="0.9" fill="#ff7f0e"/>
<circle cx="216.75" cy="246.75" r="0.9" fill="#2ca02c"/>
<circle cx="232.06" cy="226.5" r="0.9" fill="#2ca02c"/>
<circle cx="247.37" cy="212.25" r="0.9" fill="#2ca02c"/>
<circle cx="262.68" cy="206" r="0.9" fill="#2ca02c"/>
<circle cx="277.99" cy="198.25" r="0.9" fill="#2ca02c"/>
<circle cx="293.3" cy="188.5" r="0.9" fill="#2ca02c"/>
<circle cx="308.61" cy="178.75" r="0.9" fill="#2ca02c"/>
<circle cx="323.92" cy="170" r="0.9" fill="#2ca02c"/>
<circle cx="339.23" cy="160.5" r="0.9" fill="#2ca02c"/>
<circle cx="354.54" cy="150.5" r="0.9" fill="#2ca02c"/>
<circle cx="216.75" cy="248.5" r="0.9" fill="#d62728"/>
<circle cx="232.06" cy="231.75" r="0.9" fill="#d62728"/>
<circle cx="247.37" cy="219" r="0.9" fill="#d62728"/>
<circle cx="262.68" cy="211" r="0.9" fill="#d62728"/>
<circle cx="277.99" cy="203.1" r="0.9" fill="#d62728"/>
<circle cx="293.3" cy="193.6" r="0.9" fill="#d62728"/>
<circle cx="308.61" cy="184.25" r="0.9" fill="#d62728"/>
<circle cx="323.92" cy="173.75" r="0.9" fill="#d62728"/>
<circle cx="339.23" cy="165" r="0.9" fill="#d62728"/>
<circle cx="354.54" cy="155" r="0.9" fill="#d62728"/>
<rect x="211.3" y="144" width="47" height="23.9" rx="0.8" fill="#ffffff" fill-opacity="0.85" stroke="#d9d9d9" stroke-width="0.5"/>
<line x1="212.6" y1="147.2" x2="221.6" y2="147.2" stroke="#1f77b4" stroke-opacity="1.0" stroke-width="0.72" stroke-dasharray="2.0 1.0"/>
<circle cx="217.1" cy="147.2" r="0.9" fill="#1f77b4"/>
<text transform="translate(224.8,149.5) scale(0.1,0.105)" font-size="43.5" letter-spacing="0">MADCO</text>
<line x1="212.6" y1="152.9" x2="221.6" y2="152.9" stroke="#ff7f0e" stroke-opacity="0.6" stroke-width="0.6"/>
<circle cx="217.1" cy="152.9" r="0.9" fill="#ff7f0e"/>
<text transform="translate(224.8,154.6) scale(0.1,0.105)" font-size="43.5" letter-spacing="0">K-means</text>
<line x1="212.6" y1="158.9" x2="221.6" y2="158.9" stroke="#2ca02c" stroke-opacity="1.0" stroke-width="0.72" stroke-dasharray="2.6 0.9 0.6 0.9"/>
<circle cx="217.1" cy="158.9" r="0.9" fill="#2ca02c"/>
<text transform="translate(224.8,160.6) scale(0.1,0.105)" font-size="43.5" letter-spacing="0">Throughput-first</text>
<line x1="212.6" y1="164.6" x2="221.6" y2="164.6" stroke="#d62728" stroke-opacity="1.0" stroke-width="0.8"/>
<circle cx="217.1" cy="164.6" r="0.9" fill="#d62728"/>
<text transform="translate(224.8,166.5) scale(0.1,0.105)" font-size="43.5" letter-spacing="0">FedDCO</text>
<rect x="209.9" y="142.2" width="151.5" height="111.1" fill="none" stroke="#8c8c8c" stroke-width="0.72"/>
<line x1="232.06" y1="253.3" x2="232.06" y2="254.7" stroke="#333" stroke-width="0.6"/>
<text transform="translate(232.06,260.12) scale(0.1,0.105)" font-size="43.5" letter-spacing="0" text-anchor="middle">20</text>
<line x1="262.68" y1="253.3" x2="262.68" y2="254.7" stroke="#333" stroke-width="0.6"/>
<text transform="translate(262.68,260.12) scale(0.1,0.105)" font-size="43.5" letter-spacing="0" text-anchor="middle">40</text>
<line x1="293.3" y1="253.3" x2="293.3" y2="254.7" stroke="#333" stroke-width="0.6"/>
<text transform="translate(293.3,260.12) scale(0.1,0.105)" font-size="43.5" letter-spacing="0" text-anchor="middle">60</text>
<line x1="323.92" y1="253.3" x2="323.92" y2="254.7" stroke="#333" stroke-width="0.6"/>
<text transform="translate(323.92,260.12) scale(0.1,0.105)" font-size="43.5" letter-spacing="0" text-anchor="middle">80</text>
<line x1="354.54" y1="253.3" x2="354.54" y2="254.7" stroke="#333" stroke-width="0.6"/>
<text transform="translate(354.54,260.12) scale(0.1,0.105)" font-size="43.5" letter-spacing="0" text-anchor="middle">100</text>
<line x1="208.5" y1="241.5" x2="209.9" y2="241.5" stroke="#333" stroke-width="0.6"/>
<text transform="translate(207.6,243.42) scale(0.1,0.105)" font-size="43.5" letter-spacing="0" text-anchor="end">10,000</text>
<line x1="208.5" y1="225.68" x2="209.9" y2="225.68" stroke="#333" stroke-width="0.6"/>
<text transform="translate(207.6,227.6) scale(0.1,0.105)" font-size="43.5" letter-spacing="0" text-anchor="end">20,000</text>
<line x1="208.5" y1="209.87" x2="209.9" y2="209.87" stroke="#333" stroke-width="0.6"/>
<text transform="translate(207.6,211.78) scale(0.1,0.105)" font-size="43.5" letter-spacing="0" text-anchor="end">30,000</text>
<line x1="208.5" y1="194.05" x2="209.9" y2="194.05" stroke="#333" stroke-width="0.6"/>
<text transform="translate(207.6,195.97) scale(0.1,0.105)" font-size="43.5" letter-spacing="0" text-anchor="end">40,000</text>
<line x1="208.5" y1="178.23" x2="209.9" y2="178.23" stroke="#333" stroke-width="0.6"/>
<text transform="translate(207.6,180.15) scale(0.1,0.105)" font-size="43.5" letter-spacing="0" text-anchor="end">50,000</text>
<line x1="208.5" y1="162.42" x2="209.9" y2="162.42" stroke="#333" stroke-width="0.6"/>
<text transform="translate(207.6,164.33) scale(0.1,0.105)" font-size="43.5" letter-spacing="0" text-anchor="end">60,000</text>
<line x1="208.5" y1="146.6" x2="209.9" y2="146.6" stroke="#333" stroke-width="0.6"/>
<text transform="translate(207.6,148.52) scale(0.1,0.105)" font-size="43.5" letter-spacing="0" text-anchor="end">70,000</text>
<text transform="translate(285.64,265.52) scale(0.1,0.105)" font-size="43.5" letter-spacing="0" text-anchor="middle">number of MDs</text>
<text transform="translate(285.64,269.62) scale(0.1,0.105)" font-size="43.5" letter-spacing="0" text-anchor="middle">(e)</text>
<text transform="translate(191.17,197.1) rotate(-90) scale(0.1,0.105)" font-size="43.5" letter-spacing="0" text-anchor="middle">energy(w)</text>
<line x1="416.53" y1="143.7" x2="416.53" y2="253.3" stroke="#efefef" stroke-width="0.6"/>
<line x1="447.09" y1="143.7" x2="447.09" y2="253.3" stroke="#efefef" stroke-width="0.6"/>
<line x1="477.65" y1="143.7" x2="477.65" y2="253.3" stroke="#efefef" stroke-width="0.6"/>
<line x1="508.21" y1="143.7" x2="508.21" y2="253.3" stroke="#efefef" stroke-width="0.6"/>
<line x1="538.77" y1="143.7" x2="538.77" y2="253.3" stroke="#efefef" stroke-width="0.6"/>
<line x1="394.4" y1="241.25" x2="545.4" y2="241.25" stroke="#efefef" stroke-width="0.6"/>
<line x1="394.4" y1="224.96" x2="545.4" y2="224.96" stroke="#efefef" stroke-width="0.6"/>
<line x1="394.4" y1="208.67" x2="545.4" y2="208.67" stroke="#efefef" stroke-width="0.6"/>
<line x1="394.4" y1="192.38" x2="545.4" y2="192.38" stroke="#efefef" stroke-width="0.6"/>
<line x1="394.4" y1="176.08" x2="545.4" y2="176.08" stroke="#efefef" stroke-width="0.6"/>
<line x1="394.4" y1="159.79" x2="545.4" y2="159.79" stroke="#efefef" stroke-width="0.6"/>
<polyline points="401.25,247.25 416.53,230.25 431.81,218.5 447.09,211 462.37,203 477.65,193 492.93,183 508.21,173.75 523.49,163.75 538.77,154.25" fill="none" stroke="#1f77b4" stroke-opacity="1.0" stroke-width="0.72" stroke-dasharray="2.0 1.0" stroke-linejoin="round"/>
<polyline points="401.25,245.25 416.53,226.5 431.81,213 447.09,205.5 462.37,198 477.65,188.6 492.93,178.25 508.21,169.25 523.49,159.25 538.77,149.5" fill="none" stroke="#ff7f0e" stroke-opacity="0.6" stroke-width="0.6" stroke-linejoin="round"/>
<polyline points="401.25,246.5 416.53,228.5 431.81,216 447.09,209 462.37,201.5 477.65,191.75 492.93,181.75 508.21,172.5 523.49,162.5 538.77,153" fill="none" stroke="#2ca02c" stroke-opacity="1.0" stroke-width="0.72" stroke-dasharray="2.6 0.9 0.6 0.9" stroke-linejoin="round"/>
<polyline points="401.25,248.5 416.53,233.5 431.81,219.75 447.09,214 462.37,205.5 477.65,196.1 492.93,186.25 508.21,176.75 523.49,167 538.77,157.5" fill="none" stroke="#d62728" stroke-opacity="1.0" stroke-width="0.8" stroke-linejoin="round"/>
<circle cx="401.25" cy="247.25" r="0.9" fill="#1f77b4"/>
<circle cx="416.53" cy="230.25" r="0.9" fill="#1f77b4"/>
<circle cx="431.81" cy="218.5" r="0.9" fill="#1f77b4"/>
<circle cx="447.09" cy="211" r="0.9" fill="#1f77b4"/>
<circle cx="462.37" cy="203" r="0.9" fill="#1f77b4"/>
<circle cx="477.65" cy="193" r="0.9" fill="#1f77b4"/>
<circle cx="492.93" cy="183" r="0.9" fill="#1f77b4"/>
<circle cx="508.21" cy="173.75" r="0.9" fill="#1f77b4"/>
<circle cx="523.49" cy="163.75" r="0.9" fill="#1f77b4"/>
<circle cx="538.77" cy="154.25" r="0.9" fill="#1f77b4"/>
<circle cx="401.25" cy="245.25" r="0.9" fill="#ff7f0e"/>
<circle cx="416.53" cy="226.5" r="0.9" fill="#ff7f0e"/>
<circle cx="431.81" cy="213" r="0.9" fill="#ff7f0e"/>
<circle cx="447.09" cy="205.5" r="0.9" fill="#ff7f0e"/>
<circle cx="462.37" cy="198" r="0.9" fill="#ff7f0e"/>
<circle cx="477.65" cy="188.6" r="0.9" fill="#ff7f0e"/>
<circle cx="492.93" cy="178.25" r="0.9" fill="#ff7f0e"/>
<circle cx="508.21" cy="169.25" r="0.9" fill="#ff7f0e"/>
<circle cx="523.49" cy="159.25" r="0.9" fill="#ff7f0e"/>
<circle cx="538.77" cy="149.5" r="0.9" fill="#ff7f0e"/>
<circle cx="401.25" cy="246.5" r="0.9" fill="#2ca02c"/>
<circle cx="416.53" cy="228.5" r="0.9" fill="#2ca02c"/>
<circle cx="431.81" cy="216" r="0.9" fill="#2ca02c"/>
<circle cx="447.09" cy="209" r="0.9" fill="#2ca02c"/>
<circle cx="462.37" cy="201.5" r="0.9" fill="#2ca02c"/>
<circle cx="477.65" cy="191.75" r="0.9" fill="#2ca02c"/>
<circle cx="492.93" cy="181.75" r="0.9" fill="#2ca02c"/>
<circle cx="508.21" cy="172.5" r="0.9" fill="#2ca02c"/>
<circle cx="523.49" cy="162.5" r="0.9" fill="#2ca02c"/>
<circle cx="538.77" cy="153" r="0.9" fill="#2ca02c"/>
<circle cx="401.25" cy="248.5" r="0.9" fill="#d62728"/>
<circle cx="416.53" cy="233.5" r="0.9" fill="#d62728"/>
<circle cx="431.81" cy="219.75" r="0.9" fill="#d62728"/>
<circle cx="447.09" cy="214" r="0.9" fill="#d62728"/>
<circle cx="462.37" cy="205.5" r="0.9" fill="#d62728"/>
<circle cx="477.65" cy="196.1" r="0.9" fill="#d62728"/>
<circle cx="492.93" cy="186.25" r="0.9" fill="#d62728"/>
<circle cx="508.21" cy="176.75" r="0.9" fill="#d62728"/>
<circle cx="523.49" cy="167" r="0.9" fill="#d62728"/>
<circle cx="538.77" cy="157.5" r="0.9" fill="#d62728"/>
<rect x="396" y="145.4" width="46.3" height="24.3" rx="0.8" fill="#ffffff" fill-opacity="0.85" stroke="#d9d9d9" stroke-width="0.5"/>
<line x1="396.9" y1="148.5" x2="405.9" y2="148.5" stroke="#1f77b4" stroke-opacity="1.0" stroke-width="0.72" stroke-dasharray="2.0 1.0"/>
<circle cx="401.4" cy="148.5" r="0.9" fill="#1f77b4"/>
<text transform="translate(409.2,150.6) scale(0.1,0.105)" font-size="43.5" letter-spacing="0">MADCO</text>
<line x1="396.9" y1="154.6" x2="405.9" y2="154.6" stroke="#ff7f0e" stroke-opacity="0.6" stroke-width="0.6"/>
<circle cx="401.4" cy="154.6" r="0.9" fill="#ff7f0e"/>
<text transform="translate(409.2,156.5) scale(0.1,0.105)" font-size="43.5" letter-spacing="0">K-means</text>
<line x1="396.9" y1="160.2" x2="405.9" y2="160.2" stroke="#2ca02c" stroke-opacity="1.0" stroke-width="0.72" stroke-dasharray="2.6 0.9 0.6 0.9"/>
<circle cx="401.4" cy="160.2" r="0.9" fill="#2ca02c"/>
<text transform="translate(409.2,161.5) scale(0.1,0.105)" font-size="43.5" letter-spacing="0">Throughput-first</text>
<line x1="396.9" y1="166.5" x2="405.9" y2="166.5" stroke="#d62728" stroke-opacity="1.0" stroke-width="0.8"/>
<circle cx="401.4" cy="166.5" r="0.9" fill="#d62728"/>
<text transform="translate(409.2,168.6) scale(0.1,0.105)" font-size="43.5" letter-spacing="0">FedDCO</text>
<rect x="394.4" y="143.7" width="151" height="109.6" fill="none" stroke="#8c8c8c" stroke-width="0.72"/>
<line x1="416.53" y1="253.3" x2="416.53" y2="254.7" stroke="#333" stroke-width="0.6"/>
<text transform="translate(416.53,260.12) scale(0.1,0.105)" font-size="43.5" letter-spacing="0" text-anchor="middle">20</text>
<line x1="447.09" y1="253.3" x2="447.09" y2="254.7" stroke="#333" stroke-width="0.6"/>
<text transform="translate(447.09,260.12) scale(0.1,0.105)" font-size="43.5" letter-spacing="0" text-anchor="middle">40</text>
<line x1="477.65" y1="253.3" x2="477.65" y2="254.7" stroke="#333" stroke-width="0.6"/>
<text transform="translate(477.65,260.12) scale(0.1,0.105)" font-size="43.5" letter-spacing="0" text-anchor="middle">60</text>
<line x1="508.21" y1="253.3" x2="508.21" y2="254.7" stroke="#333" stroke-width="0.6"/>
<text transform="translate(508.21,260.12) scale(0.1,0.105)" font-size="43.5" letter-spacing="0" text-anchor="middle">80</text>
<line x1="538.77" y1="253.3" x2="538.77" y2="254.7" stroke="#333" stroke-width="0.6"/>
<text transform="translate(538.77,260.12) scale(0.1,0.105)" font-size="43.5" letter-spacing="0" text-anchor="middle">100</text>
<line x1="393" y1="241.25" x2="394.4" y2="241.25" stroke="#333" stroke-width="0.6"/>
<text transform="translate(392.1,243.17) scale(0.1,0.105)" font-size="43.5" letter-spacing="0" text-anchor="end">10,000</text>
<line x1="393" y1="224.96" x2="394.4" y2="224.96" stroke="#333" stroke-width="0.6"/>
<text transform="translate(392.1,226.87) scale(0.1,0.105)" font-size="43.5" letter-spacing="0" text-anchor="end">20,000</text>
<line x1="393" y1="208.67" x2="394.4" y2="208.67" stroke="#333" stroke-width="0.6"/>
<text transform="translate(392.1,210.58) scale(0.1,0.105)" font-size="43.5" letter-spacing="0" text-anchor="end">30,000</text>
<line x1="393" y1="192.38" x2="394.4" y2="192.38" stroke="#333" stroke-width="0.6"/>
<text transform="translate(392.1,194.29) scale(0.1,0.105)" font-size="43.5" letter-spacing="0" text-anchor="end">40,000</text>
<line x1="393" y1="176.08" x2="394.4" y2="176.08" stroke="#333" stroke-width="0.6"/>
<text transform="translate(392.1,178) scale(0.1,0.105)" font-size="43.5" letter-spacing="0" text-anchor="end">50,000</text>
<line x1="393" y1="159.79" x2="394.4" y2="159.79" stroke="#333" stroke-width="0.6"/>
<text transform="translate(392.1,161.71) scale(0.1,0.105)" font-size="43.5" letter-spacing="0" text-anchor="end">60,000</text>
<line x1="393" y1="143.5" x2="394.4" y2="143.5" stroke="#333" stroke-width="0.6"/>
<text transform="translate(392.1,145.42) scale(0.1,0.105)" font-size="43.5" letter-spacing="0" text-anchor="end">70,000</text>
<text transform="translate(470.01,265.52) scale(0.1,0.105)" font-size="43.5" letter-spacing="0" text-anchor="middle">number of MDs</text>
<text transform="translate(470.01,269.62) scale(0.1,0.105)" font-size="43.5" letter-spacing="0" text-anchor="middle">(f)</text>
<text transform="translate(375.37,198.3) rotate(-90) scale(0.1,0.105)" font-size="43.5" letter-spacing="0" text-anchor="middle">energy(w)</text>
</svg>
</body></html>
